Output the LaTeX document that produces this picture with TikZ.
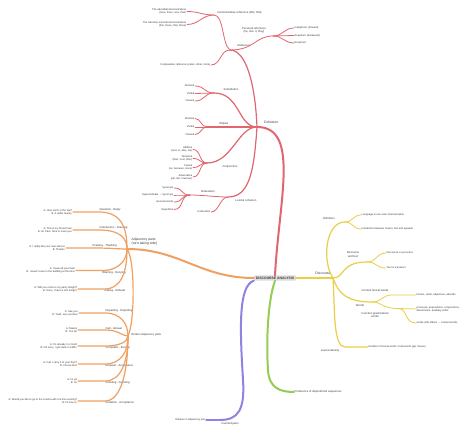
\documentclass[tikz,border=0pt]{standalone}
\usepackage{fontspec}
\setsansfont{Liberation Sans}
\definecolor{MapRed}{HTML}{E06670}
\definecolor{MapOrange}{HTML}{F0A062}
\definecolor{MapYellow}{HTML}{E8CF48}
\definecolor{MapGreen}{HTML}{96CC55}
\definecolor{MapPurple}{HTML}{8C84E0}
\definecolor{MapCore}{HTML}{DCDCDC}
\definecolor{MapText}{HTML}{3A3A3A}
\begin{document}
\begin{tikzpicture}[x=1pt,y=-1pt,
  font=\sffamily\fontsize{2.6}{3.1}\selectfont,text=MapText,
  leaf/.style={inner sep=0.5pt},
  lleaf/.style={leaf,anchor=east,align=right},
  rleaf/.style={leaf,anchor=west,align=left},
  lab/.style={inner sep=0.5pt,align=center,font=\sffamily\fontsize{2.8}{3.3}\selectfont},
  toplab/.style={inner sep=0.5pt,align=left,font=\sffamily\fontsize{3.4}{4}\selectfont},
  core/.style={fill=MapCore,rounded corners=1pt,inner xsep=2pt,inner ysep=1.3pt,
    font=\sffamily\bfseries\fontsize{3.4}{4}\selectfont},
  trunk/.style={line width=2pt,line cap=round},
  twig/.style={line width=1.2pt,line cap=round},
  stalk/.style={line width=0.8pt,line cap=round}]
  \path[use as bounding box] (0,0) rectangle (474,435);
  \fill[white] (0,0) rectangle (474,435);
  \node[core] (da) at (275,278) {DISCOURSE ANALYSIS};

  \coordinate (jcoh) at (257,127);
  \coordinate (jref) at (230,50);
  \coordinate (jdem) at (214,15);
  \coordinate (jper) at (273,36);
  \coordinate (jsub) at (214,93);
  \coordinate (jell) at (207,127);
  \coordinate (jconj) at (207,163);
  \coordinate (jlex) at (228,197);
  \coordinate (jrei) at (190,195);
  \node[toplab] (cohesion) at (271,122) {Cohesion};
  \node[lab] (reference) at (244,46) {Reference};
  \node[lab,anchor=west] (demref) at (217,13) {Demonstrative reference (this, that)};
  \node[lleaf] (advdem) at (187,11.5) {The adverbial demonstratives\\(here, there, now, then)};
  \node[lleaf] (seldem) at (187,24.5) {The selective nominal demonstratives\\(this, these, that, those)};
  \node[lab] (perref) at (254,30) {Personal reference\\(he, she, it, they)};
  \node[rleaf] (cata) at (294,28) {Cataphoric (forward)};
  \node[rleaf] (ana) at (294,35.5) {Anaphoric (backward)};
  \node[rleaf] (exo) at (294,43) {Exophoric};
  \node[lleaf] (compref) at (211,65) {Comparative reference (same, other, more)};
  \node[lab] (subst) at (231,89.5) {Substitution};
  \node[lleaf] (subnom) at (195,86) {Nominal};
  \node[lleaf] (subverb) at (195,93.5) {Verbal};
  \node[lleaf] (subclause) at (195,101) {Clausal};
  \node[lab] (ellip) at (224,123.5) {Ellipsis};
  \node[lleaf] (ellnom) at (195,118.5) {Nominal};
  \node[lleaf] (ellverb) at (195,127) {Verbal};
  \node[lleaf] (ellclause) at (195,134.5) {Clausal};
  \node[lab] (conj) at (230,166.5) {Conjunction};
  \node[lleaf] (additive) at (193,149.5) {Additive\\(and, or, also, too)};
  \node[lleaf] (temporal) at (193,158.5) {Temporal\\(then, next, after)};
  \node[lleaf] (causal) at (193,167.5) {Causal\\(so, because, since)};
  \node[lleaf] (adversative) at (193,177) {Adversative\\(yet, but, however)};
  \node[lab] (lexcoh) at (246,200.5) {Lexical cohesion};
  \node[lab] (reit) at (208,191.5) {Reiteration};
  \node[lleaf] (synonym) at (174,188) {Synonym};
  \node[lleaf] (superord) at (174,195) {Superordinate → Synonym};
  \node[lleaf] (general) at (174,202) {General words};
  \node[lleaf] (repetition) at (174,209.5) {Repetition};
  \node[lleaf] (colloc) at (211,212) {Collocation};
  \begin{scope}[draw=MapRed]
    \draw[trunk] (da.north) .. controls (279,200) and (300,127) .. (jcoh);
    \draw[twig] (jcoh) .. controls (255,80) and (245,50) .. (jref);
    \draw[stalk] (jref) .. controls (222,45) and (224,15) .. (jdem);
    \draw[stalk] (jdem) .. controls +(-12,0) and +(12,0) .. (advdem.east);
    \draw[stalk] (jdem) .. controls +(-12,0) and +(12,0) .. (seldem.east);
    \draw[stalk] (jref) .. controls (255,50) and (255,36) .. (jper);
    \draw[stalk] (jper) .. controls +(10,0) and +(-10,0) .. (cata.west);
    \draw[stalk] (jper) .. controls +(10,0) and +(-10,0) .. (ana.west);
    \draw[stalk] (jper) .. controls +(10,0) and +(-10,0) .. (exo.west);
    \draw[stalk] (jref) .. controls +(-10,0) and +(10,0) .. (compref.east);
    \draw[twig] (jcoh) .. controls (238,127) and (240,93) .. (jsub);
    \draw[stalk] (jsub) .. controls +(-10,0) and +(10,0) .. (subnom.east);
    \draw[stalk] (jsub) .. controls +(-10,0) and +(10,0) .. (subverb.east);
    \draw[stalk] (jsub) .. controls +(-10,0) and +(10,0) .. (subclause.east);
    \draw[twig] (jcoh) -- (jell);
    \draw[stalk] (jell) .. controls +(-6,0) and +(6,0) .. (ellnom.east);
    \draw[stalk] (jell) -- (ellverb.east);
    \draw[stalk] (jell) .. controls +(-6,0) and +(6,0) .. (ellclause.east);
    \draw[twig] (jcoh) .. controls (238,127) and (232,163) .. (jconj);
    \draw[stalk] (jconj) .. controls +(-8,0) and +(8,0) .. (additive.east);
    \draw[stalk] (jconj) .. controls +(-8,0) and +(8,0) .. (temporal.east);
    \draw[stalk] (jconj) .. controls +(-8,0) and +(8,0) .. (causal.east);
    \draw[stalk] (jconj) .. controls +(-8,0) and +(8,0) .. (adversative.east);
    \draw[twig] (jcoh) .. controls (254,170) and (250,197) .. (jlex);
    \draw[stalk] (jlex) .. controls +(-12,0) and +(12,0) .. (jrei);
    \draw[stalk] (jrei) .. controls +(-10,0) and +(10,0) .. (synonym.east);
    \draw[stalk] (jrei) .. controls +(-10,0) and +(10,0) .. (superord.east);
    \draw[stalk] (jrei) .. controls +(-10,0) and +(10,0) .. (general.east);
    \draw[stalk] (jrei) .. controls +(-10,0) and +(10,0) .. (repetition.east);
    \draw[stalk] (jlex) .. controls +(-8,0) and +(8,0) .. (colloc.east);
  \end{scope}

  \coordinate (jadj) at (127,249);
  \coordinate (jbro) at (128,336);
  \node[toplab,anchor=west] (adjpairs) at (131,242) {Adjacency pairs\\(turn-taking side)};
  \node[lleaf] (qrex) at (73,212) {A: How much is the taxi?\\B: A dollar twenty.};
  \node[lab,anchor=south west] (qr) at (99,212) {Question - Reply};
  \node[lleaf] (igex) at (73,230) {A: This is my friend Paul.\\B: Hi, Paul. Nice to meet you.};
  \node[lab,anchor=south west] (ig) at (99,230) {Introduction - Greeting};
  \node[lleaf] (ptex) at (66,248) {A: I really like your new haircut.\\B: Thanks.};
  \node[lab,anchor=south west] (pt) at (92,248) {Praising - Thanking};
  \node[lleaf] (bdex) at (76,270.5) {A: It was all your fault.\\B: I wasn't even in the building at the time.};
  \node[lab,anchor=north west] (bd) at (102,270.5) {Blaming - Denying};
  \node[lleaf] (arex) at (78,289) {A: Will you come to my party tonight?\\B: Sorry, I have a test tonight.};
  \node[lab,anchor=north west] (ar) at (104,289) {Asking - Refusal};
  \node[lab,anchor=west] (broken) at (131,334.5) {Broken Adjacency pairs};
  \node[lleaf] (ddex) at (79,313) {A: See you.\\B: Yeah, see you later.};
  \node[lab,anchor=south west] (dd) at (105,313) {Departing - Departing};
  \node[lleaf] (caex) at (78,330) {A: Mateo!\\B: Yes sir!};
  \node[lab,anchor=south west] (ca) at (105,330) {Call - Answer};
  \node[lleaf] (ceex) at (78,346) {A: It's already 3 o'clock!\\B: Oh sorry, I got stuck in traffic.};
  \node[lab,anchor=north west] (ce) at (105,346) {Complaint - Excuse};
  \node[lleaf] (raex) at (78,364) {A: Can I carry it to your floor?\\B: I'd love that.};
  \node[lab,anchor=north west] (ra) at (105,364) {Request - Acceptance};
  \node[lleaf] (ggex) at (78,381) {A: Hi ya!\\B: Hi.};
  \node[lab,anchor=north west] (gg) at (105,381) {Greeting - Greeting};
  \node[lleaf] (iaex) at (78,401) {A: Would you like to go to the cinema with me this evening?\\B: I'd love to.};
  \node[lab,anchor=north west] (ia) at (105,401) {Invitation - Acceptance};
  \begin{scope}[draw=MapOrange]
    \draw[trunk] (da.west) .. controls (200,278) and (180,249) .. (jadj);
    \draw[twig] (qrex.east) -- (qr.south west) .. controls +(22,0) and +(0,-22) .. (jadj);
    \draw[twig] (igex.east) -- (ig.south west) .. controls +(22,0) and +(0,-10) .. (jadj);
    \draw[twig] (ptex.east) -- (pt.south west) .. controls +(20,0) and +(-10,0) .. (jadj);
    \draw[twig] (bdex.east) -- (bd.north west) .. controls +(18,0) and +(0,10) .. (jadj);
    \draw[twig] (arex.east) -- (ar.north west) .. controls +(18,0) and +(0,22) .. (jadj);
    \draw[twig] (jadj) .. controls (135,258) and (135,322) .. (jbro);
    \draw[twig] (ddex.east) -- (dd.south west) .. controls +(16,0) and +(0,-12) .. (jbro);
    \draw[twig] (caex.east) -- (ca.south west) .. controls +(14,0) and +(-6,0) .. (jbro);
    \draw[twig] (ceex.east) -- (ce.north west) .. controls +(14,0) and +(0,6) .. (jbro);
    \draw[twig] (raex.east) -- (ra.north west) .. controls +(16,0) and +(0,16) .. (jbro);
    \draw[twig] (ggex.east) -- (gg.north west) .. controls +(16,0) and +(0,26) .. (jbro);
    \draw[twig] (iaex.east) -- (ia.north west) .. controls +(16,0) and +(0,36) .. (jbro);
  \end{scope}

  \coordinate (jinv) at (220,420);
  \node[lab,anchor=north west] (inverted) at (221,421.5) {Inverted pairs};
  \node[lleaf] (initiative) at (206,420) {Initiative in Adjacency pair};
  \begin{scope}[draw=MapPurple]
    \draw[trunk] (da.south west) .. controls (238,286) and (240,330) .. (243,380)
      .. controls (245,410) and (238,420) .. (jinv);
    \draw[twig] (jinv) -- (initiative.east);
  \end{scope}

  \node[lab,anchor=west] (pref) at (294,392) {Preference of dispreferred sequences};
  \draw[trunk,draw=MapGreen] (da.south) .. controls (268,300) and (266,340) .. (268,370)
    .. controls (269,388) and (280,392) .. (pref.west);

  \coordinate (jdis) at (333,278);
  \coordinate (jdef) at (345,222);
  \coordinate (jdat) at (367,262);
  \coordinate (jwor) at (372,302);
  \coordinate (jfun) at (398,308.5);
  \coordinate (jld) at (345,347);
  \node[toplab] (discourse) at (323,273.5) {Discourse};
  \node[lab] (definition) at (329,218.5) {Definition};
  \node[rleaf] (languse) at (361,215) {Language in use and communication};
  \node[rleaf] (interact) at (361,229) {Interaction between hearer, text and speaker};
  \node[lab] (distext) at (353,254.5) {Discourse\\and text};
  \node[rleaf] (process) at (386,253) {Discourse is a process};
  \node[rleaf] (product) at (386,268) {Text is a product};
  \node[lab] (words) at (360,305.5) {Words};
  \node[lab] (content) at (375,291) {Content lexical words};
  \node[rleaf] (contwords) at (416,295) {Nouns, verbs, adjectives, adverbs};
  \node[lab] (function) at (375,315) {Function grammatical\\words};
  \node[rleaf] (funcwords) at (416,309) {pronouns, prepositions, conjunctions,\\determiners, auxiliary verbs};
  \node[rleaf] (affix) at (416,323) {words with affixes → content words};
  \node[lab] (lexdens) at (330,351) {Lexical density};
  \node[rleaf] (ratio) at (368,347) {Number of lexical words / total words (per clause)};
  \begin{scope}[draw=MapYellow]
    \draw[trunk] (da.east) -- (jdis);
    \draw[twig] (jdis) .. controls (322,262) and (325,222) .. (jdef);
    \draw[stalk] (jdef) .. controls +(8,0) and +(-8,0) .. (languse.west);
    \draw[stalk] (jdef) .. controls +(8,0) and +(-8,0) .. (interact.west);
    \draw[twig] (jdis) .. controls (345,278) and (340,262) .. (jdat);
    \draw[stalk] (jdat) .. controls +(10,0) and +(-10,0) .. (process.west);
    \draw[stalk] (jdat) .. controls +(10,0) and +(-10,0) .. (product.west);
    \draw[twig] (jdis) .. controls (338,292) and (345,302) .. (jwor);
    \draw[stalk] (jwor) .. controls (382,302) and (382,295) .. (392,295) -- (contwords.west);
    \draw[stalk] (jwor) .. controls (382,302) and (382,308.5) .. (jfun) -- (funcwords.west);
    \draw[stalk] (jfun) .. controls (408,308.5) and (404,323) .. (affix.west);
    \draw[twig] (jdis) .. controls (335,310) and (333,347) .. (jld) -- (ratio.west);
  \end{scope}
\end{tikzpicture}
\end{document}
